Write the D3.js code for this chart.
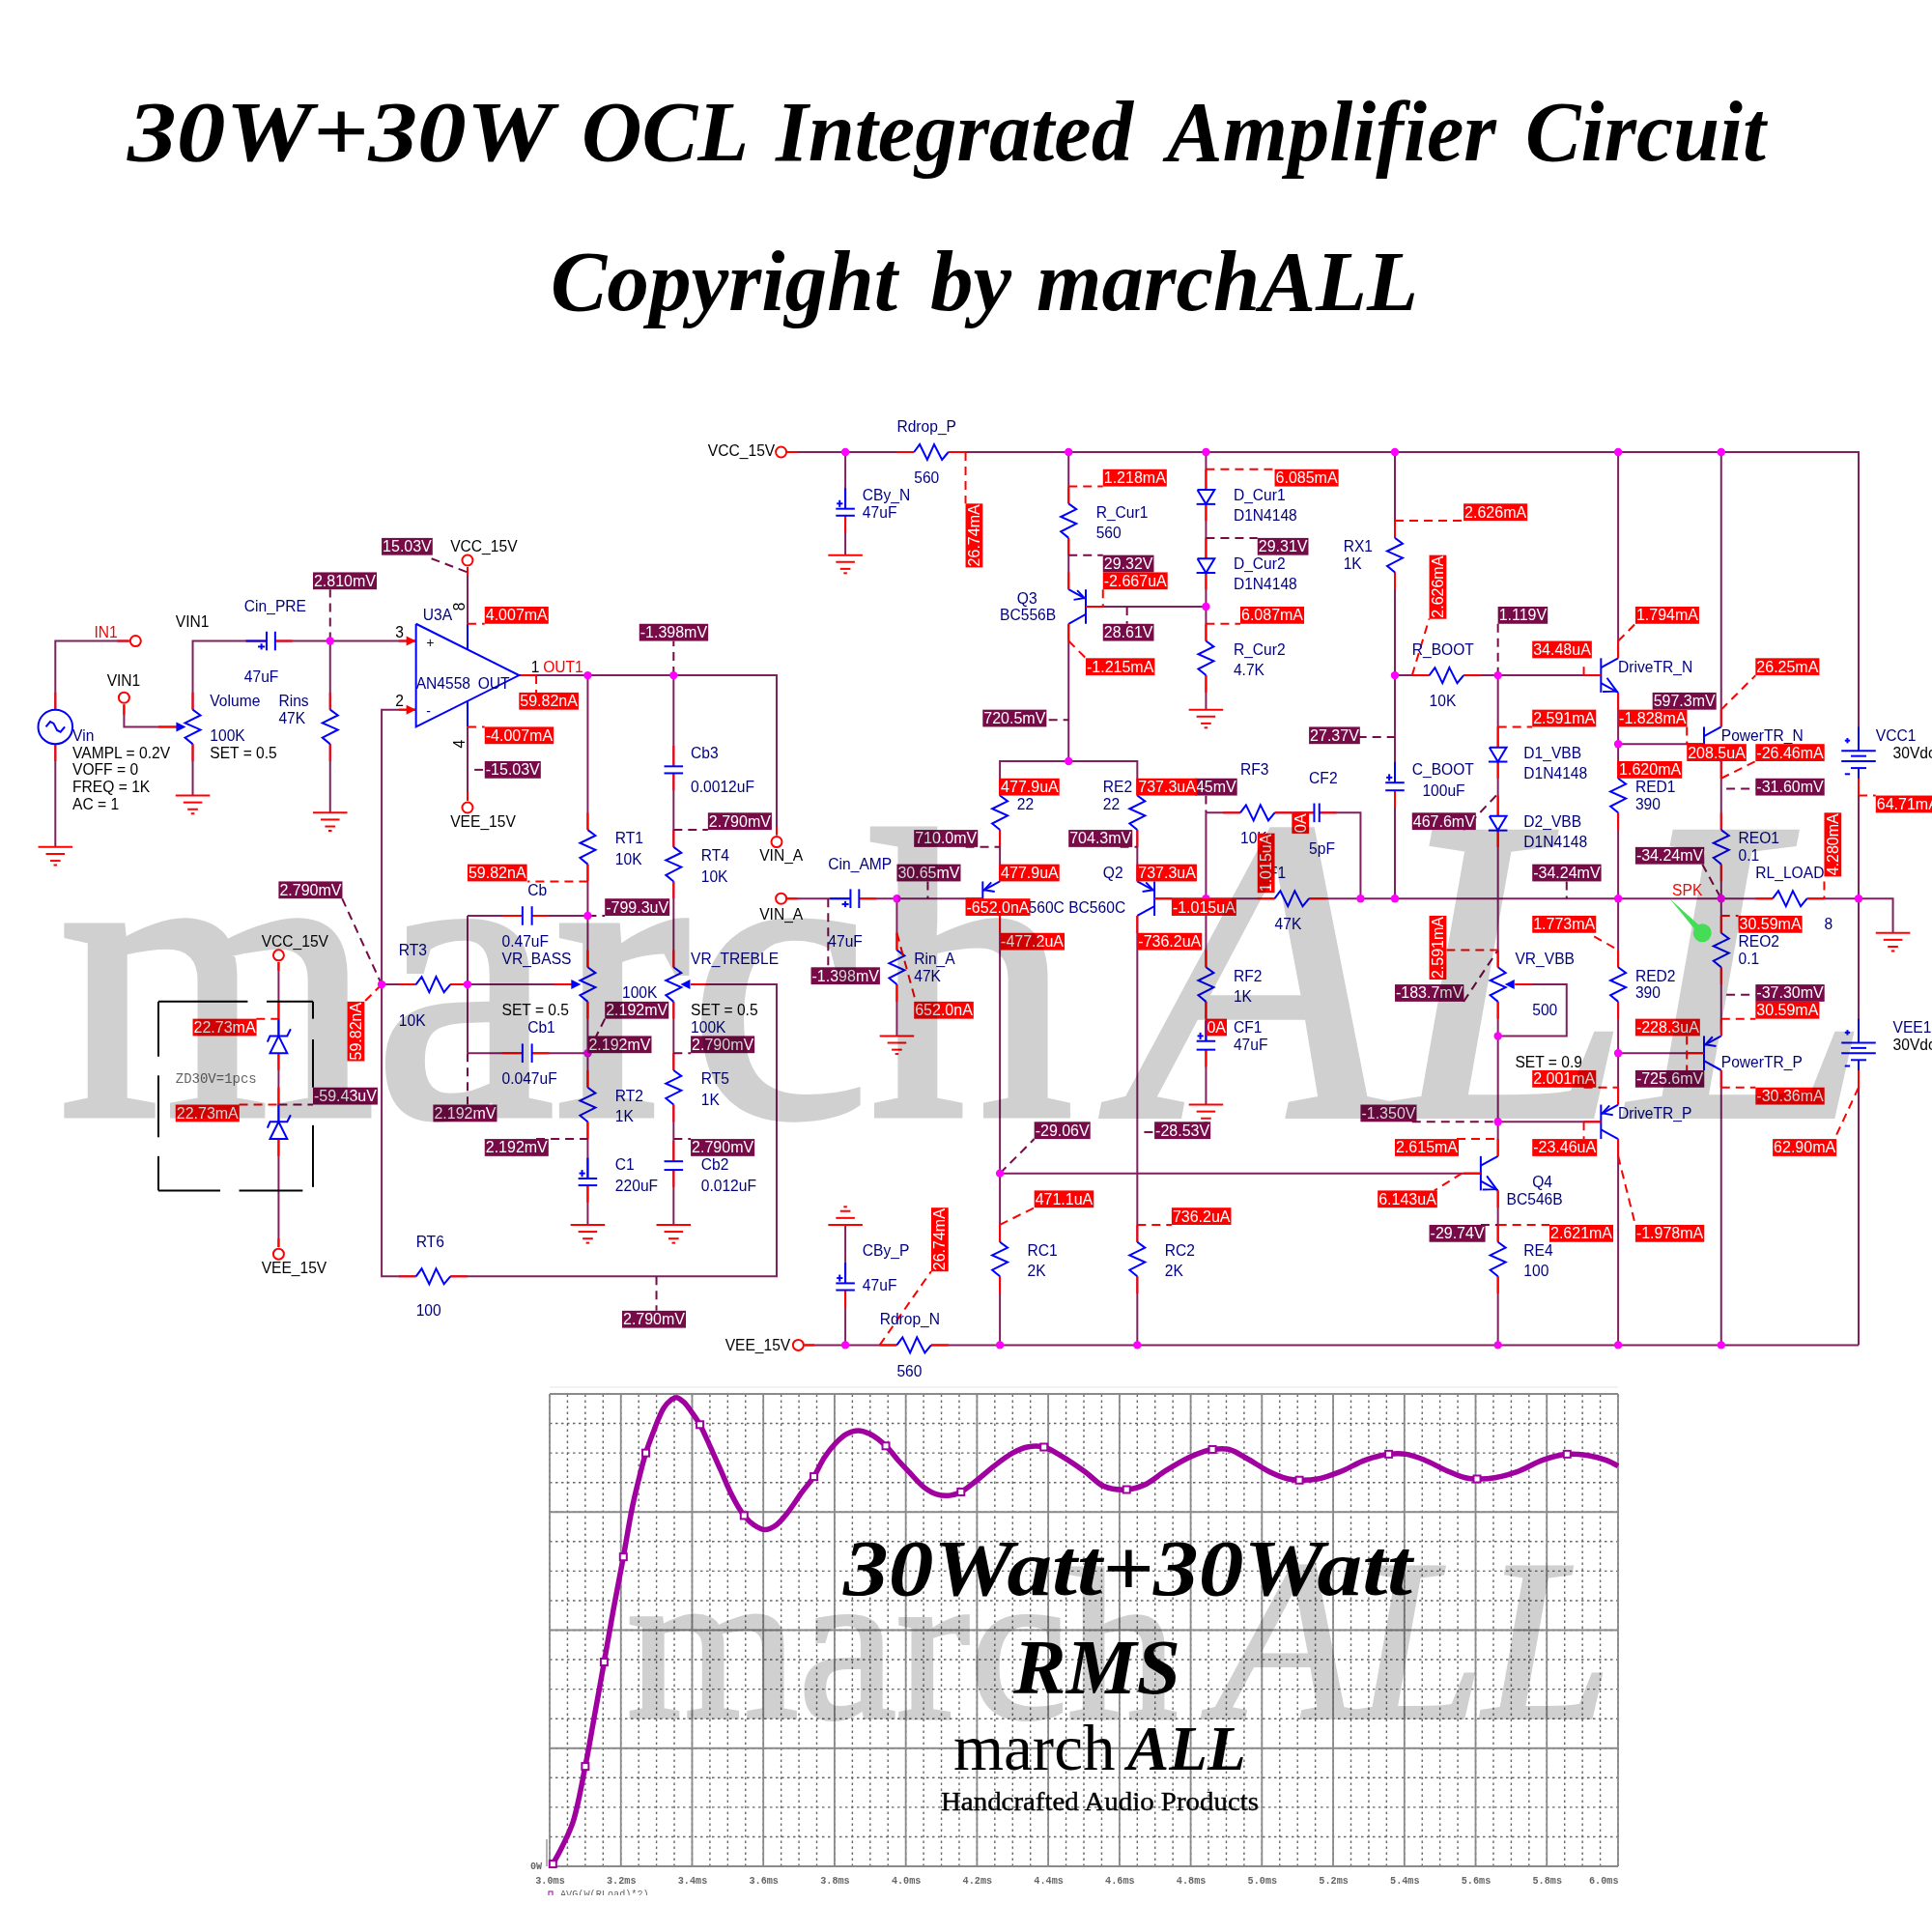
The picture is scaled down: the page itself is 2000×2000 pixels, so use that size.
<!DOCTYPE html>
<html>
<head>
<meta charset="UTF-8">
<style>
  body { margin: 0; background: #fff; }
  svg { display: block; }
  text { font-family: "Liberation Sans", Arial, sans-serif; }
  .serif { font-family: "Liberation Serif", serif; }
  .wm { fill: #d0d0d0; stroke: #d0d0d0; mix-blend-mode: multiply; }
</style>
</head>
<body>
<script src="https://d3js.org/d3.v7.min.js"></script>
<script>
// ---- schematic, everything in grid cells of the capture sheet ----
var wires = [
  [[0,15],[0,11],[4.3,11]], [[0,17],[0,23]], [[4,14.7],[4,16],[7.4,16]], [[8,15],[8,11],[12.3,11]],
  [[12.8,11],[21,11]], [[16,11],[16,15]], [[16,17],[16,21]], [[8,17],[8,20]],
  [[24,6.7],[24,10]], [[24,16],[24,20.3]], [[27,13],[42,13],[42,22.3]],
  [[21,15],[19,15],[19,48],[21,48]], [[23,48],[42,48],[42,31],[37,31]],
  [[23,31],[30.4,31]], [[24,27],[24,35]], [[24,27],[27.2,27]], [[27.75,27],[31,27]],
  [[24,35],[27.2,35]], [[27.75,35],[31,35]],
  [[31,13],[31,22]], [[31,24],[31,30]], [[31,32],[31,37]], [[31,39],[31,42.3]], [[31,42.7],[31,45]],
  [[36,13],[36,18.3]], [[36,18.7],[36,23]], [[36,25],[36,30]], [[36,32],[36,36]], [[36,38],[36,41.3]], [[36,41.8],[36,45]],
  [[13,29.7],[13,34]], [[13,35],[13,39]], [[13,40],[13,46.3]],
  [[42.6,0],[50,0]], [[52,0],[105,0],[105,17]], [[46,0],[46,3.3]], [[46,3.7],[46,6]],
  [[59,0],[59,3]], [[59,5],[59,8]], [[59,10],[59,18]], [[55,20],[55,18],[63,18],[63,20]],
  [[55,22],[55,25]], [[55,27],[55,46]], [[55,48],[55,52]], [[63,22],[63,25]], [[63,27],[63,46]], [[63,48],[63,52]],
  [[67,0],[67,2.2]], [[67,3],[67,6.2]], [[67,7],[67,11]], [[67,13],[67,15]], [[60,9],[67,9]],
  [[42.6,26],[46.3,26]], [[46.8,26],[54,26]], [[49,26],[49,29]], [[49,31],[49,34]],
  [[64,26],[71,26]], [[73,26],[100,26]], [[102,26],[107,26],[107,28]],
  [[67,21],[67,30]], [[67,32],[67,34.3]], [[67,34.8],[67,38]], [[67,21],[69,21]], [[71,21],[73.3,21]], [[73.6,21],[76,21],[76,26]],
  [[78,0],[78,5]], [[78,7],[78,19.25]], [[78,19.7],[78,26]], [[78,13],[80,13]], [[82,13],[90,13]],
  [[84,13],[84,17.2]], [[84,18],[84,21.2]], [[84,22],[84,30]], [[84,32],[84,41]], [[84,43],[84,46]], [[84,48],[84,52]],
  [[85,31],[88,31],[88,34],[84,34]], [[91,0],[91,12]], [[91,14],[91,19]], [[91,21],[91,30]], [[91,32],[91,38]], [[91,40],[91,52]],
  [[91,17],[96,17]], [[84,39],[90,39]], [[91,35],[96,35]], [[97,0],[97,16]], [[97,18],[97,22]], [[97,24],[97,28]], [[97,30],[97,34]], [[97,36],[97,52]],
  [[55,42],[83,42]], [[105,18.4],[105,34.4]], [[105,35.4],[105,52]], [[43.6,52],[49,52]], [[51,52],[105,52]],
  [[46,45],[46,48.4]], [[46,48.8],[46,52]], [[19,31],[21,31]]
];
var redStubs = [
  [[20,11],[21,11]], [[20,15],[21,15]], [[6,16],[7.4,16]], [[29,31],[30.4,31]], [[37,31],[38,31]], [[85,31],[86,31]],
  [[27,13],[28,13]], [[3.6,11],[4.3,11]], [[4,14.7],[4,15.3]], [[24,6.7],[24,7.2]], [[24,19.8],[24,20.3]], [[42,21.8],[42,22.3]],
  [[42.6,26],[43.2,26]], [[42.6,0],[43.2,0]], [[43.6,52],[44.2,52]], [[13,29.7],[13,30.2]], [[13,45.8],[13,46.3]], [[0,15],[0,14]], [[0,17],[0,18]]
];
var junctions = [[16,11],[31,13],[36,13],[19,31],[24,31],[31,27],[31,35],[46,0],[59,0],[67,0],[78,0],[91,0],[97,0],[67,9],[59,18],
  [49,26],[67,26],[76,26],[78,26],[91,26],[97,26],[105,26],[78,13],[84,13],[91,17],[84,34],[91,35],[84,39],[55,42],
  [46,52],[55,52],[63,52],[84,52],[91,52],[97,52]];
var pins = [[4.67,11],[4,14.3],[24,6.3],[24,20.7],[42,22.7],[42.26,26],[42.26,0],[43.26,52],[13,29.3],[13,46.7]];
var grounds = [[0,23,1],[8,20,1],[16,21,1],[46,6,1],[67,15,1],[31,45,1],[36,45,1],[49,34,1],[67,38,1],[107,28,1],[46,45,-1]];
var resV = [[8,15],[16,15],[31,22],[31,30],[31,37],[36,23],[36,30],[36,36],[59,3],[67,11],[78,5],[55,20],[63,20],[55,46],[63,46],[49,29],[67,30],[84,30],[84,46],[91,19],[91,30],[97,22],[97,28]];
var resH = [[50,0],[21,31],[21,48],[49,52],[69,21],[71,26],[80,13],[100,26]];
var capV = [[36,18.3,18.7,0],[36,41.3,41.8,0],[46,3.3,3.7,1],[46,48.4,48.8,1],[31,42.3,42.7,1],[78,19.25,19.7,1],[67,34.3,34.8,1]];
var capH = [[12.3,12.8,11,1],[27.2,27.75,27,0],[27.2,27.75,35,0],[73.3,73.6,21,0],[46.3,46.8,26,1]];
var diodes = [[67,2.2],[67,6.2],[84,17.2],[84,21.2]];
var zeners = [[13,34],[13,39]];
var batteries = [[105,17.4],[105,34.4]];
// bar column, top row, side the leads go to, where the arrow sits
var transistors = [[60,8,-1,"in"],[54,25,1,"in"],[64,25,-1,"in"],[90,12,1,"out"],[96,16,1,"out"],[96,34,1,"in"],[90,38,1,"in"],[83,41,1,"out"]];
var arrowsRed = [[21,11,1],[21,15,1]];
var arrowsBlue = [[7.6,16,1],[30.6,31,1],[36.4,31,-1],[84.4,31,-1]];
var boxSegs = [[[6,32],[11.2,32]],[[12.3,32],[15,32]],[[6,32],[6,35.2]],[[6,36.3],[6,39.9]],[[6,41],[6,43]],[[6,43],[9.6,43]],[[10.7,43],[14.4,43]],
  [[15,32],[15,33]],[[15,34.2],[15,37]],[[15,39.2],[15,42.8]]];

var voltLabels = [["15.03V",19,5],["2.810mV",15,7],["-1.398mV",34,10],["-15.03V",25,18],["2.790mV",13,25],["-799.3uV",32,26],["2.192mV",32,32],["2.192mV",31,34],
  ["-59.43uV",15,37],["2.192mV",22,38],["2.192mV",25,40],["2.790mV",33,50],["2.790mV",38,21],["29.31V",70,5],["29.32V",61,6],["28.61V",61,10],["720.5mV",54,15],
  ["45mV",66.35,19],["710.0mV",50,22],["704.3mV",59,22],["30.65mV",49,24],["1.119V",84,9],["597.3mV",93,14],["27.37V",73,16],["-31.60mV",99,19],["467.6mV",79,21],
  ["-34.24mV",92,23],["-34.24mV",86,24],["-1.398mV",44,30],["2.790mV",37,34],["2.790mV",37,40],["-29.06V",57,39],["-28.53V",64,39],["-183.7mV",78,31],["-37.30mV",99,31],
  ["-725.6mV",92,36],["-1.350V",76,38],["-29.74V",80,45]];
var currLabels = [["4.007mA",25,9],["59.82nA",27,14],["-4.007mA",25,16],["59.82nA",24,24],["22.73mA",8,33],["22.73mA",7,38],["1.218mA",61,1],["6.085mA",71,1],["-2.667uA",61,7],
  ["6.087mA",69,9],["-1.215mA",60,12],["477.9uA",55,19],["737.3uA",63,19],["477.9uA",55,24],["737.3uA",63,24],["2.626mA",82,3],["1.794mA",92,9],["34.48uA",86,11],["26.25mA",99,12],
  ["-1.828mA",91,15],["2.591mA",86,15],["208.5uA",95,17],["-26.46mA",99,17],["1.620mA",91,18],["64.71mA",106,20],["-652.0nA",53,26],["-477.2uA",55,28],["652.0nA",50,32],
  ["-1.015uA",65,26],["-736.2uA",63,28],["0A",67,33],["471.1uA",57,43],["736.2uA",65,44],["1.773mA",86,27],["30.59mA",98,27],["30.59mA",99,32],["-228.3uA",92,33],
  ["2.001mA",86,36],["-30.36mA",99,37],["2.615mA",78,40],["-23.46uA",86,40],["62.90mA",100,40],["6.143uA",77,43],["2.621mA",87,45],["-1.978mA",92,45]];
var currRotated = [["59.82nA",17,32],["26.74mA",53,3],["2.626mA",80,6],["4.280mA",103,21],["1.015uA",70,22.2],["0A",72,21],["26.74mA",51,44],["2.591mA",80,27]];

var voltLeaders = [[[16,11],[16,8]],[[21.9,6.2],[24,7]],[[24.4,18.5],[25,18.5]],[[16.7,26],[19,31]],[[31,27],[32,27]],[[13,38],[15,38]],[[32,33],[31,35]],[[24,35],[24,38]],
  [[28,40],[31,40]],[[35,48],[35,50]],[[36,13],[36,11]],[[59,6],[61,6]],[[62.4,9],[62.4,10]],[[57,15.6],[59,15.6]],[[67,5],[70,5]],[[53,23],[55,23]],[[62,23],[63,23]],[[50.8,25],[50.8,26]],
  [[67,20],[67,21]],[[45,26],[45,30]],[[36,22],[38,22]],[[36,35],[37,35]],[[36,40],[37,40]],[[55,42],[57,40]],[[63.4,39.6],[64,39.6]],[[84,10],[84,13]],[[75,16.6],[78,16.6]],
  [[83.9,20],[82,22]],[[97.3,19.6],[99,19.6]],[[95.9,24],[97,26]],[[88,25],[88,26]],[[82,32],[84,29]],[[97.3,31.6],[99,31.6]],[[79,39],[84,39]],[[83,45],[84,45]]];
var currLeaders = [[[24,10],[25,10]],[[28,13],[28,14]],[[24,16],[25,16]],[[31,25],[27.5,25]],[[19,31],[18,32]],[[11.7,33],[13,33]],[[10.7,38],[13,38]],[[53,0],[53,3]],[[59,2],[61,2]],
  [[61,8],[61,9]],[[59,11],[60,12]],[[67,1],[71,1]],[[67,10],[69,10]],[[49,28],[50.1,32]],[[55,45],[57,44]],[[63,45],[65,45]],[[48,52],[51,47.7]],[[78,4],[82,4]],[[79,13],[80,9.7]],
  [[89,12.5],[89,13]],[[91,11],[92,10]],[[97,15],[99,13]],[[84,16],[86,16]],[[95,16],[95,17]],[[97,19],[99,18]],[[105,20],[106,20]],[[103,25],[103,26]],[[89.6,28.2],[91,29]],
  [[97,27],[98,27]],[[81,29],[84,29]],[[97,33],[99,33]],[[95,34],[95,37]],[[89,37],[91,37]],[[97,37],[99,37]],[[105,37],[103.6,40]],[[81.6,40],[84,40]],[[89,39],[89,40]],
  [[81.9,42],[80.3,43]],[[84,45],[87,45]],[[91,41],[92,45]]];

var navyText = [["Cin_PRE",11,8.5],["47uF",11,12.6],["Volume",9,14],["Rins",13,14],["47K",13,15],["100K",9,16],["Vin",1,16],["U3A",21.4,9],["AN4558",21,13],["OUT",24.6,13],
  ["RT1",32.6,22],["10K",32.6,23.2],["Cb",27.5,25],["0.47uF",26,28],["VR_BASS",26,29],["RT3",20,28.5],["10K",20,32.6],["Cb1",27.5,33],["100K",33,31],["0.047uF",26,36],
  ["RT2",32.6,37],["1K",32.6,38.2],["C1",32.6,41],["220uF",32.6,42.2],["RT6",21,45.5],["100",21,49.5],["Rdrop_P",49,-2],["560",50,1],["CBy_N",47,2],["47uF",47,3],
  ["R_Cur1",60.6,3],["560",60.6,4.2],["D_Cur1",68.6,2],["D1N4148",68.6,3.2],["D_Cur2",68.6,6],["D1N4148",68.6,7.2],["Q3",56,8],["BC556B",55,9],["R_Cur2",68.6,11],["4.7K",68.6,12.2],
  ["Cb3",37,17],["0.0012uF",37,19],["RT4",37.6,23],["10K",37.6,24.2],["Cin_AMP",45,23.5],["22",56,20],["RE2",61,19],["22",61,20],["RF3",69,18],["Q2",61,24],["10K",69,22],["RF1",70,24],
  ["47K",71,27],["47uF",45,28],["VR_TREBLE",37,29],["Rin_A",50,29],["47K",50,30],["100K",37,33],["RT5",37.6,36],["1K",37.6,37.2],["560C",56.66,26],["BC560C",59,26],["RF2",68.6,30],["1K",68.6,31.2],
  ["CF1",68.6,33],["47uF",68.6,34],["Cb2",37.6,41],["0.012uF",37.6,42.2],["CBy_P",47,46],["47uF",47,48],["Rdrop_N",48,50],["560",49,53],["RC1",56.6,46],["2K",56.6,47.2],["RC2",64.6,46],["2K",64.6,47.2],
  ["RX1",75,5],["1K",75,6],["R_BOOT",79,11],["10K",80,14],["DriveTR_N",91,12],["PowerTR_N",97,16],["D1_VBB",85.5,17],["D1N4148",85.5,18.2],["D2_VBB",85.5,21],["D1N4148",85.5,22.2],["CF2",73,18.5],
  ["C_BOOT",79,18],["100uF",79.6,19.2],["5pF",73,22.6],["RED1",92,19],["390",92,20],["VCC1",106,16],["REO1",98,22],["0.1",98,23],["RL_LOAD",99,24],["8",103,27],["REO2",98,28],["0.1",98,29],
  ["VR_VBB",85,29],["500",86,32],["RED2",92,30],["390",92,31],["PowerTR_P",97,35],["DriveTR_P",91,38],["Q4",86,42],["BC546B",84.5,43],["RE4",85.5,46],["100",85.5,47.2],["VEE1",107,33]];
var blackText = [["VIN1",7,9.4],["VIN1",3,12.8],["SET = 0.5",9,17],["VAMPL = 0.2V",1,17],["VOFF = 0",1,18],["FREQ = 1K",1,19],["AC = 1",1,20],["1",27.7,12],["3",19.8,10],["2",19.8,14],
  ["VCC_15V",23,5],["VEE_15V",23,21],["VCC_15V",12,28],["SET = 0.5",26,32],["VEE_15V",12,47],["VCC_15V",38,-0.6],["VIN_A",41,23],["VIN_A",41,26.4],["SET = 0.5",37,32],["VEE_15V",39,51.5],
  ["30Vdc",107,17],["SET = 0.9",85,35],["30Vdc",107,34]];
var redText = [["IN1",2.26,10],["OUT1",28.4,12]];

// heading words: text, left and right end on the page
var titleLine1 = [["30W+30W",132,573],["OCL",602,775],["Integrated",803,1173],["Amplifier",1208,1549],["Circuit",1579,1828]];
var titleLine2 = [["Copyright",570,929],["by",963,1047],["marchALL",1073,1468]];

// ---- output power plot, W against ms ----
var curveT = [3.009,3.035,3.066,3.1,3.128,3.153,3.18,3.207,3.232,3.253,3.27,3.294,3.32,3.341,3.356,3.377,3.398,3.422,3.45,3.481,3.512,3.546,3.574,3.605,3.636,3.667,3.709,3.742,3.771,3.802,3.833,3.866,3.9,3.944,3.978,4.009,4.051,4.087,4.123,4.155,4.196,4.248,4.3,4.341,4.388,4.434,4.504,4.555,4.62,4.67,4.73,4.794,4.835,4.861,4.908,4.96,5.022,5.074,5.105,5.156,5.219,5.291,5.356,5.405,5.457,5.519,5.571,5.604,5.654,5.716,5.789,5.857,5.913,5.965,6.0];
var curveW = [0.2,1.66,3.8,8.46,13.1,17.3,21.9,26.2,30.4,33.1,35,37,38.8,39.5,39.7,39.3,38.5,37.4,35.6,33.5,31.4,29.7,28.9,28.5,28.9,29.9,31.7,33,34.6,35.8,36.6,36.9,36.6,35.6,34.4,33.4,32.1,31.5,31.4,31.7,32.6,33.9,35,35.5,35.5,34.8,33.4,32.2,31.9,32.3,33.5,34.6,35.1,35.3,35.3,34.5,33.4,32.8,32.7,32.8,33.4,34.4,34.9,34.9,34.4,33.5,32.9,32.8,32.9,33.4,34.4,34.9,34.8,34.4,33.9];
var markerIdx = [0,3,5,7,10,17,21,27,33,39,44,48,53,58,62,67,71];
var timeMajor = [3,3.2,3.4,3.6,3.8,4,4.2,4.4,4.6,4.8,5,5.2,5.4,5.6,5.8,6];
var wattMajor = [0,10,20,30,40];

var svg = d3.select("body").append("svg").attr("width", 2000).attr("height", 2000);
var gx = d3.scaleLinear().domain([0, 105]).range([57.3, 1924]);
var gy = d3.scaleLinear().domain([0, 52]).range([468, 1392.4]);
var cell = gy(1) - gy(0);

var WIRE = "#80205f", RED = "#ff0000", BLUE = "#0000ff", VOLT = "#770b47", NAVY = "#000080", GREEN = "#44dd55";
var sch = svg.append("g").attr("fill", "none").attr("stroke-width", 2);
var lineGrid = d3.line().x(function(d) { return gx(d[0]); }).y(function(d) { return gy(d[1]); });

function poly(pts, color, parent) {
  return (parent || sch).append("path").attr("d", lineGrid(pts)).attr("stroke", color).attr("fill", "none");
}

wires.forEach(function(w) { poly(w, WIRE); });
redStubs.forEach(function(w) { poly(w, RED); });

// resistors
var zigT = [0, .33, .77, 1.17, 1.63, 2], zigA = [0, .45, -.45, .45, -.45, 0];
resV.forEach(function(r) {
  poly([[r[0], r[1] - 1], [r[0], r[1]]], RED);
  poly([[r[0], r[1] + 2], [r[0], r[1] + 3]], RED);
  poly(zigT.map(function(t, k) { return [r[0] + zigA[k], r[1] + t]; }), BLUE);
});
resH.forEach(function(r) {
  poly([[r[0] - 1, r[1]], [r[0], r[1]]], RED);
  poly([[r[0] + 2, r[1]], [r[0] + 3, r[1]]], RED);
  poly(zigT.map(function(t, k) { return [r[0] + t, r[1] - zigA[k]]; }), BLUE);
});

// capacitors
capV.forEach(function(c) {
  poly([[c[0], c[1] - 1.2], [c[0], c[1]]], c[3] ? BLUE : RED);
  poly([[c[0], c[2]], [c[0], c[2] + 1]], RED);
  poly([[c[0] - .55, c[1]], [c[0] + .55, c[1]]], BLUE);
  poly([[c[0] - .55, c[2]], [c[0] + .55, c[2]]], BLUE);
  if (c[3]) {
    poly([[c[0] - .5, c[1] - .3], [c[0] - .15, c[1] - .3]], BLUE);
    poly([[c[0] - .33, c[1] - .5], [c[0] - .33, c[1] - .1]], BLUE);
  }
});
capH.forEach(function(c) {
  poly([[c[0] - 1.2, c[2]], [c[0], c[2]]], c[3] ? BLUE : RED);
  poly([[c[1], c[2]], [c[1] + 1, c[2]]], RED);
  poly([[c[0], c[2] - .55], [c[0], c[2] + .55]], BLUE);
  poly([[c[1], c[2] - .55], [c[1], c[2] + .55]], BLUE);
  if (c[3]) {
    poly([[c[0] - .5, c[2] + .33], [c[0] - .1, c[2] + .33]], BLUE);
    poly([[c[0] - .3, c[2] + .15], [c[0] - .3, c[2] + .5]], BLUE);
  }
});

// diodes, zeners
diodes.forEach(function(d) {
  poly([[d[0], d[1] - 1.2], [d[0], d[1]]], RED);
  poly([[d[0], d[1] + .83], [d[0], d[1] + 1.8]], RED);
  poly([[d[0] - .5, d[1]], [d[0] + .5, d[1]], [d[0], d[1] + .83], [d[0] - .5, d[1]]], BLUE);
  poly([[d[0] - .55, d[1] + .83], [d[0] + .55, d[1] + .83]], BLUE);
});
zeners.forEach(function(d) {
  poly([[d[0], d[1] - 1], [d[0], d[1]]], BLUE);
  poly([[d[0], d[1] + 1], [d[0], d[1] + 2]], RED);
  poly([[d[0], d[1]], [d[0] + .5, d[1] + 1], [d[0] - .5, d[1] + 1], [d[0], d[1]]], BLUE);
  poly([[d[0] - .65, d[1] + .35], [d[0] - .5, d[1]], [d[0] + .5, d[1]], [d[0] + .7, d[1] - .4]], BLUE);
  poly([[d[0], d[1] - 1], [d[0], d[1] - 2]], RED);
});

// transistors
transistors.forEach(function(t) {
  var i = t[0], j = t[1], s = t[2];
  poly([[i, j], [i, j + 2]], BLUE);
  poly([[i, j + .55], [i + s, j]], BLUE);
  poly([[i, j + 1.45], [i + s, j + 2]], BLUE);
  poly([[i + s, j - 1], [i + s, j]], RED);
  poly([[i + s, j + 2], [i + s, j + 3]], RED);
  poly([[i - s, j + 1], [i, j + 1]], RED);
  if (t[3] == "in") {
    poly([[i + s * .5, j + .05], [i + s * .08, j + .5], [i + s * .7, j + .6]], BLUE);
  } else {
    poly([[i + s * .35, j + 1.15], [i + s * .92, j + 1.93], [i + s * .1, j + 1.95]], BLUE);
  }
});

// op amp
poly([[21,10],[21,16],[27,13],[21,10]], BLUE);
poly([[24,10],[24,11.5]], BLUE);
poly([[24,14.5],[24,16]], BLUE);

// batteries
batteries.forEach(function(b) {
  poly([[b[0], b[1] - 1.4], [b[0], b[1]]], BLUE);
  poly([[b[0], b[1] + 1], [b[0], b[1] + 1.6]], BLUE);
  poly([[b[0], b[1] + 1.6], [b[0], b[1] + 2.6]], RED);
  poly([[b[0] - 1, b[1]], [b[0] + 1, b[1]]], BLUE);
  poly([[b[0] - .45, b[1] + .3], [b[0] + .45, b[1] + .3]], BLUE);
  poly([[b[0] - 1, b[1] + .6], [b[0] + 1, b[1] + .6]], BLUE);
  poly([[b[0] - .45, b[1] + 1], [b[0] + .45, b[1] + 1]], BLUE);
  poly([[b[0] - .8, b[1] - .6], [b[0] - .5, b[1] - .6]], BLUE);
  poly([[b[0] - .65, b[1] - .75], [b[0] - .65, b[1] - .45]], BLUE);
  poly([[b[0] - .8, b[1] + 1.35], [b[0] - .5, b[1] + 1.35]], BLUE);
});

// grounds
grounds.forEach(function(g) {
  var i = g[0], j = g[1], d = g[2];
  [[1, 0], [.55, .4], [.3, .8], [.1, 1.05]].forEach(function(b) {
    poly([[i - b[0], j + d * b[1]], [i + b[0], j + d * b[1]]], RED);
  });
});

// source and pins
sch.append("circle").attr("cx", gx(0)).attr("cy", gy(16)).attr("r", cell).attr("stroke", BLUE).attr("fill", "none");
poly([[-.55, 16], [-.3, 15.7], [-.1, 15.8], [.1, 16.2], [.3, 16.3], [.55, 16]], BLUE);
sch.selectAll("circle.pin").data(pins).join("circle").attr("class", "pin")
  .attr("cx", function(d) { return gx(d[0]); }).attr("cy", function(d) { return gy(d[1]); })
  .attr("r", 5.5).attr("stroke", RED).attr("fill", "#fff");

// wiper and input arrows
function arrowHead(a, color) {
  sch.append("path").attr("fill", color).attr("stroke", "none")
    .attr("d", "M" + gx(a[0]) + "," + gy(a[1]) + "l" + (-a[2] * 10) + ",-5v10z");
}
arrowsRed.forEach(function(a) { arrowHead(a, RED); });
arrowsBlue.forEach(function(a) { arrowHead(a, BLUE); });

// zener box
boxSegs.forEach(function(s) { poly(s, "#000"); });

// dashed probes
voltLeaders.forEach(function(l) { poly(l, VOLT).attr("stroke-dasharray", "9 6"); });
currLeaders.forEach(function(l) { poly(l, RED).attr("stroke-dasharray", "9 6"); });

// junction dots
sch.selectAll("circle.dot").data(junctions).join("circle").attr("class", "dot")
  .attr("cx", function(d) { return gx(d[0]); }).attr("cy", function(d) { return gy(d[1]); })
  .attr("r", 4.2).attr("fill", "#ff00ff");

// component text
function putText(list, color) {
  svg.append("g").selectAll("text").data(list).join("text")
    .attr("x", function(d) { return gx(d[1]); })
    .attr("y", function(d) { return gy(d[2] + .5); })
    .attr("dominant-baseline", "central").attr("font-size", 15.6).attr("fill", color)
    .text(function(d) { return d[0]; });
}
putText(navyText, NAVY);
putText(blackText, "#000");
putText(redText, RED);
svg.append("text").attr("x", gx(7)).attr("y", gy(36.5)).attr("dominant-baseline", "central")
  .style("font-family", "Liberation Mono").attr("font-size", 14).attr("fill", "#666").text("ZD30V=1pcs");
svg.append("text").attr("transform", "translate(" + gx(23.5) + "," + gy(9) + ") rotate(-90)").attr("text-anchor", "middle").attr("dominant-baseline", "central").attr("font-size", 15.6).text("8");
svg.append("text").attr("transform", "translate(" + gx(23.5) + "," + gy(17) + ") rotate(-90)").attr("text-anchor", "middle").attr("dominant-baseline", "central").attr("font-size", 15.6).text("4");
svg.append("text").attr("x", gx(21.6)).attr("y", gy(11.1)).attr("dominant-baseline", "central").attr("font-size", 14).attr("fill", NAVY).text("+");
svg.append("text").attr("x", gx(21.6)).attr("y", gy(15.1)).attr("dominant-baseline", "central").attr("font-size", 14).attr("fill", NAVY).text("-");

// probe flags
function flag(list, color) {
  list.forEach(function(d) {
    var g = svg.append("g").attr("transform", "translate(" + gx(d[1]) + "," + gy(d[2]) + ")");
    var r = g.append("rect").attr("height", cell).attr("fill", color);
    var t = g.append("text").attr("x", 1).attr("y", cell / 2).attr("dominant-baseline", "central")
      .attr("font-size", 16).attr("fill", "#fff").text(d[0]);
    r.attr("width", t.node().getComputedTextLength() + 2);
  });
}
flag(voltLabels, VOLT);
flag(currLabels, RED);
currRotated.forEach(function(d) {
  var g = svg.append("g").attr("transform", "translate(" + gx(d[1]) + "," + gy(d[2]) + ")");
  var r = g.append("rect").attr("width", cell).attr("fill", RED);
  var t = g.append("text").attr("dominant-baseline", "central").attr("font-size", 16).attr("fill", "#fff").text(d[0]);
  var w = t.node().getComputedTextLength() + 2;
  r.attr("height", w);
  t.attr("transform", "translate(" + cell / 2 + "," + (w - 1) + ") rotate(-90)");
});

// ---- plot ----
var x = d3.scaleLinear().domain([3, 6]).range([569, 1675]);
var y = d3.scaleLinear().domain([0, 40]).range([1932, 1443]);
var plot = svg.append("g");

plot.append("line").attr("x1", 569).attr("x2", 1675).attr("y1", 1436).attr("y2", 1436).attr("stroke", "#eee").attr("stroke-width", 1.5);
d3.range(3, 6.001, .05).forEach(function(t) {
  plot.append("line").attr("x1", x(t)).attr("x2", x(t)).attr("y1", y(0)).attr("y2", y(40)).attr("stroke", "#666").attr("stroke-width", 1.4).attr("stroke-dasharray", "2.5 3.5");
});
d3.range(0, 40.01, 2.5).forEach(function(v) {
  plot.append("line").attr("x1", x(3)).attr("x2", x(6)).attr("y1", y(v)).attr("y2", y(v)).attr("stroke", "#666").attr("stroke-width", 1.4).attr("stroke-dasharray", "2.5 3.5");
});
timeMajor.forEach(function(t) {
  plot.append("line").attr("x1", x(t)).attr("x2", x(t)).attr("y1", y(0)).attr("y2", y(40)).attr("stroke", "#8a8a8a").attr("stroke-width", 1.8);
});
wattMajor.forEach(function(v) {
  plot.append("line").attr("x1", x(3)).attr("x2", x(6)).attr("y1", y(v)).attr("y2", y(v)).attr("stroke", "#8a8a8a").attr("stroke-width", 1.8);
});

var axis = plot.append("g").attr("transform", "translate(0," + y(0) + ")")
  .call(d3.axisBottom(x).tickValues(timeMajor).tickSize(0).tickPadding(11).tickFormat(function(d) { return d.toFixed(1) + "ms"; }));
axis.select(".domain").remove();
axis.selectAll("text").style("font-family", "Liberation Mono").attr("font-size", 10.2).attr("fill", "#666").attr("font-weight", "bold");
axis.selectAll(".tick:last-of-type text").attr("text-anchor", "end");
plot.append("text").attr("x", 549).attr("y", y(0)).attr("dominant-baseline", "central").style("font-family", "Liberation Mono").attr("font-size", 10.2).attr("font-weight", "bold").attr("fill", "#666").text("0W");
plot.append("line").attr("x1", 566).attr("x2", 566).attr("y1", 1904).attr("y2", 1932).attr("stroke", "#999").attr("stroke-width", 1.5);

svg.append("clipPath").attr("id", "legendClip").append("rect").attr("x", 540).attr("y", 1950).attr("width", 200).attr("height", 12);
var leg = plot.append("g").attr("clip-path", "url(#legendClip)");
leg.append("rect").attr("x", 568).attr("y", 1958).attr("width", 4).attr("height", 5).attr("fill", "none").attr("stroke", "#a000a0");
leg.append("text").attr("x", 580).attr("y", 1964).style("font-family", "Liberation Mono").attr("font-size", 10.2).attr("fill", "#666").text("AVG(W(RLoad)*2)");

var curve = curveT.map(function(t, k) { return [t, curveW[k]]; });
plot.append("path").datum(curve).attr("fill", "none").attr("stroke", "#a000a0").attr("stroke-width", 5.5)
  .attr("d", d3.line().curve(d3.curveCatmullRom).x(function(d) { return x(d[0]); }).y(function(d) { return y(d[1]); }));
plot.selectAll("rect.mark").data(markerIdx).join("rect").attr("class", "mark")
  .attr("x", function(k) { return x(curveT[k]) - 3.5; }).attr("y", function(k) { return y(curveW[k]) - 3.5; })
  .attr("width", 7).attr("height", 7).attr("fill", "#fff").attr("stroke", "#a000a0").attr("stroke-width", 2);

// ---- headings ----
function serif(txt, xp, yp, size, opts) {
  var t = svg.append("text").attr("class", "serif").attr("x", xp).attr("y", yp).attr("font-size", size).text(txt);
  Object.keys(opts || {}).forEach(function(k) { t.attr(k, opts[k]); });
  return t;
}
var bi = { "font-weight": "bold", "font-style": "italic" };
titleLine1.forEach(function(w) {
  serif(w[0], w[1], 166, 88, Object.assign({ textLength: w[2] - w[1], lengthAdjust: "spacingAndGlyphs" }, bi));
});
titleLine2.forEach(function(w) {
  serif(w[0], w[1], 321, 88, Object.assign({ textLength: w[2] - w[1], lengthAdjust: "spacingAndGlyphs" }, bi));
});
serif("30Watt+30Watt", 873, 1651, 83, Object.assign({ textLength: 589, lengthAdjust: "spacingAndGlyphs" }, bi));
serif("RMS", 1049, 1753, 80, Object.assign({ textLength: 173, lengthAdjust: "spacingAndGlyphs" }, bi));
serif("march", 987, 1832, 67);
serif("ALL", 1167, 1832, 65, bi);
serif("Handcrafted Audio Products", 974, 1874, 27, { textLength: 329, lengthAdjust: "spacingAndGlyphs", stroke: "#000", "stroke-width": .4 });

// watermarks sit over the drawing
serif("march", 61, 1154, 425, { "class": "serif wm", textLength: 1049, lengthAdjust: "spacingAndGlyphs", "stroke-width": 7 });
serif("ALL", 1165, 1155, 448, { "class": "serif wm", "font-style": "italic", "stroke-width": 6 });
serif("march", 649, 1778, 222, { "class": "serif wm", textLength: 570, lengthAdjust: "spacingAndGlyphs", "stroke-width": 4 });
serif("ALL", 1258, 1778, 238, { "class": "serif wm", "font-style": "italic", "stroke-width": 4 });

// speaker probe stays bright over the watermark
svg.append("text").attr("x", gx(94.15)).attr("y", gy(25.5)).attr("dominant-baseline", "central").attr("font-size", 15.6).attr("fill", RED).text("SPK");
svg.append("path").attr("fill", GREEN)
  .attr("d", "M" + gx(94) + "," + gy(26) + "L" + (gx(95.9) - 4) + "," + (gy(28) + 1) + "L" + (gx(95.9) + 1) + "," + (gy(28) - 4) + "z");
svg.append("circle").attr("cx", gx(95.9)).attr("cy", gy(28)).attr("r", 9.5).attr("fill", GREEN);
</script>
</body>
</html>
